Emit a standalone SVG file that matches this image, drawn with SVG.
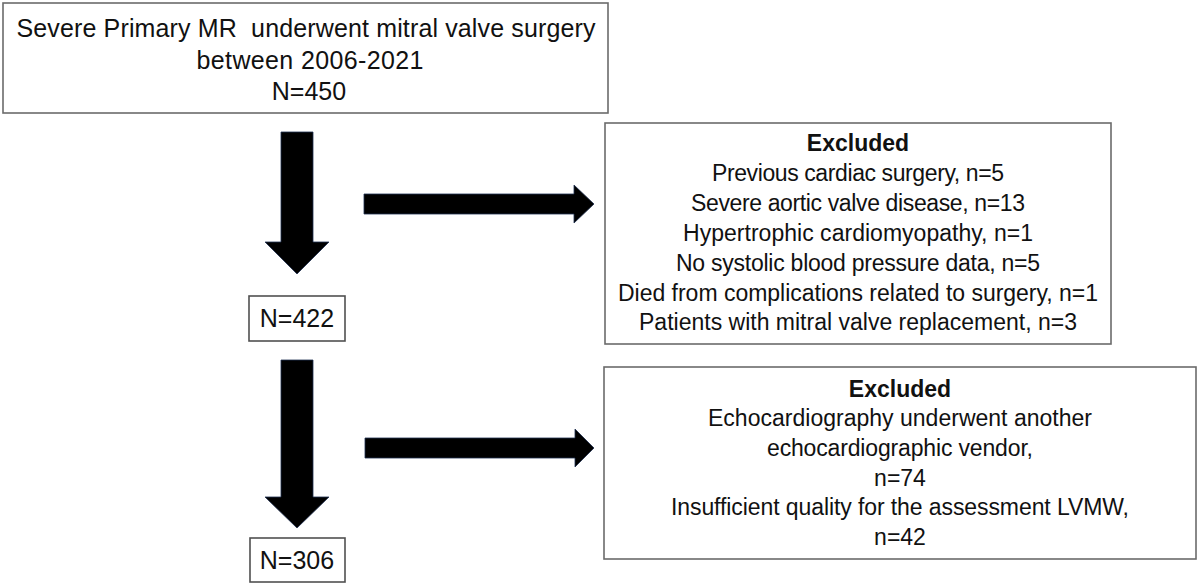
<svg xmlns="http://www.w3.org/2000/svg" width="1200" height="585" viewBox="0 0 1200 585">
<style>
.box{fill:#fff;stroke:#6b6b6b;stroke-width:1.6}
.nbox{fill:#fff;stroke:#505050;stroke-width:1.6}
.t{font-family:"Liberation Sans",Arial,sans-serif;fill:#111;text-anchor:middle}
.big{font-size:25px}
.mid{font-size:23px}
.b{font-weight:bold}
.arr{fill:#000;stroke:#1f3050;stroke-width:0.8}
</style>
<rect width="1200" height="585" fill="#fff"/>
<g id="start">
<rect class="box" x="3" y="3" width="605" height="110"/>
<text class="t big" x="306" y="37" textLength="579" xml:space="preserve">Severe Primary MR  underwent mitral valve surgery</text>
<text class="t big" x="310" y="69" textLength="227">between 2006-2021</text>
<text class="t big" x="309" y="100">N=450</text>
</g>
<g id="n422">
<rect class="nbox" x="249" y="296" width="96" height="45"/>
<text class="t big" x="297" y="327">N=422</text>
</g>
<g id="n306">
<rect class="nbox" x="250" y="538" width="95" height="44"/>
<text class="t big" x="297" y="569">N=306</text>
</g>
<g id="excluded1">
<rect class="box" x="605" y="123" width="506" height="221"/>
<text class="t mid b" x="858" y="151">Excluded</text>
<text class="t mid" x="858" y="181" textLength="292">Previous cardiac surgery, n=5</text>
<text class="t mid" x="858" y="211" textLength="334">Severe aortic valve disease, n=13</text>
<text class="t mid" x="858" y="241" textLength="350">Hypertrophic cardiomyopathy, n=1</text>
<text class="t mid" x="858" y="271" textLength="364">No systolic blood pressure data, n=5</text>
<text class="t mid" x="858" y="301" textLength="480">Died from complications related to surgery, n=1</text>
<text class="t mid" x="858" y="330" textLength="438">Patients with mitral valve replacement, n=3</text>
</g>
<g id="excluded2">
<rect class="box" x="604" y="367" width="592" height="192"/>
<text class="t mid b" x="900" y="397">Excluded</text>
<text class="t mid" x="900" y="426" textLength="384">Echocardiography underwent another</text>
<text class="t mid" x="900" y="456" textLength="266">echocardiographic vendor,</text>
<text class="t mid" x="900" y="486">n=74</text>
<text class="t mid" x="900" y="515" textLength="458">Insufficient quality for the assessment LVMW,</text>
<text class="t mid" x="900" y="545">n=42</text>
</g>
<g id="connectors">
<path class="arr" d="M281,132 H313 V242 H329 L297,274 L265,242 H281 Z"/>
<path class="arr" d="M281,360 H313 V497 H329 L297,528 L265,497 H281 Z"/>
<path class="arr" d="M364,194 H574 V185 L594,204 L574,223 V214 H364 Z"/>
<path class="arr" d="M365,438 H575 V429 L594,448 L575,467 V458 H365 Z"/>
</g>
</svg>
